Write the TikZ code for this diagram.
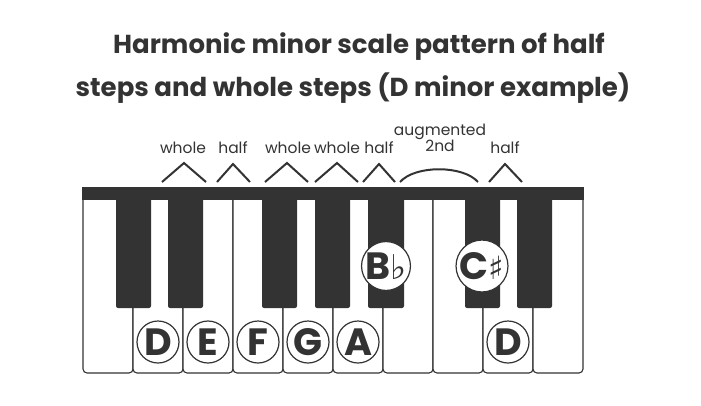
\documentclass[tikz,border=0pt]{standalone}
\usepackage{fontspec}
\setmainfont{Poppins}
\newfontfamily\symfont{DejaVu Sans}
\definecolor{keyink}{HTML}{333333}
\begin{document}
\begin{tikzpicture}[x=1pt,y=-1pt]
                \tikzset{every node/.style={text=keyink},
                         note/.style={circle,draw=keyink,fill=white,line width=1.2pt,minimum size=42pt,inner sep=0pt,font=\fontsize{38}{38}\selectfont\bfseries},
                         interval/.style={font=\fontsize{15.5}{15}\selectfont,align=center},
                         bump/.style={draw=keyink,line width=2pt}}
                \useasboundingbox (0,0) rectangle (701,405);
                % title
                \node[font=\fontsize{26}{30}\selectfont\bfseries] (title1) at (359,47) {Harmonic minor scale pattern of half};
                \node[font=\fontsize{26}{30}\selectfont\bfseries] (title2) at (353,88) {steps and whole steps (D minor example)};
                % white keys
                \draw[keyink,line width=1.1pt,rounded corners=4pt,fill=white] (83,195) -- (83,373) -- (133,373) -- (133,195);
                \draw[keyink,line width=1.1pt,rounded corners=4pt,fill=white] (133,195) -- (133,373) -- (183,373) -- (183,195);
                \draw[keyink,line width=1.1pt,rounded corners=4pt,fill=white] (183,195) -- (183,373) -- (233,373) -- (233,195);
                \draw[keyink,line width=1.1pt,rounded corners=4pt,fill=white] (233,195) -- (233,373) -- (283,373) -- (283,195);
                \draw[keyink,line width=1.1pt,rounded corners=4pt,fill=white] (283,195) -- (283,373) -- (333,373) -- (333,195);
                \draw[keyink,line width=1.1pt,rounded corners=4pt,fill=white] (333,195) -- (333,373) -- (383,373) -- (383,195);
                \draw[keyink,line width=1.1pt,rounded corners=4pt,fill=white] (383,195) -- (383,373) -- (433,373) -- (433,195);
                \draw[keyink,line width=1.1pt,rounded corners=4pt,fill=white] (433,195) -- (433,373) -- (483,373) -- (483,195);
                \draw[keyink,line width=1.1pt,rounded corners=4pt,fill=white] (483,195) -- (483,373) -- (533,373) -- (533,195);
                \draw[keyink,line width=1.1pt,rounded corners=4pt,fill=white] (533,195) -- (533,373) -- (583,373) -- (583,195);
                % black keys
                \fill[keyink,rounded corners=2pt] (116,195) rectangle (151,308);
                \fill[keyink,rounded corners=2pt] (168,195) rectangle (203,308);
                \fill[keyink,rounded corners=2pt] (262,195) rectangle (297,308);
                \fill[keyink,rounded corners=2pt] (315,195) rectangle (350,308);
                \fill[keyink,rounded corners=2pt] (368,195) rectangle (404,308);
                \fill[keyink,rounded corners=2pt] (465,195) rectangle (500,308);
                \fill[keyink,rounded corners=2pt] (517,195) rectangle (552,308);
                % top bar
                \fill[keyink] (82,187) rectangle (584,200);
                % notes
                \node[note] (d1) at (158,342) {D};
                \node[note] (e) at (208,342) {E};
                \node[note] (f) at (258,342) {F};
                \node[note] (g) at (308,342) {G};
                \node[note] (a) at (358,342) {A};
                \node[note] (bflat) at (386,266) {B{\symfont\fontsize{34}{34}\selectfont\mdseries ♭}};
                \node[note] (csharp) at (482,266) {C{\symfont\fontsize{32}{32}\selectfont\mdseries ♯}};
                \node[note] (d2) at (508,342) {D};
                % steps
                \draw[bump] (162,182) -- (184,163) -- (206,182);
                \draw[bump] (217,182) -- (233,164) -- (250,182);
                \draw[bump] (265,182) -- (287,163) -- (308,182);
                \draw[bump] (315,182) -- (337,163) -- (358,182);
                \draw[bump] (363,182) -- (379,164) -- (395,182);
                \draw[bump] (400,182) .. controls (415,165) and (463,165) .. (478,182);
                \draw[bump] (489,182) -- (505,164) -- (522,182);
                \node[interval] (s1) at (183,148) {whole};
                \node[interval] (s2) at (233,148) {half};
                \node[interval] (s3) at (288,148) {whole};
                \node[interval] (s4) at (337,148) {whole};
                \node[interval] (s5) at (379,148) {half};
                \node[interval] (s6) at (440,138) {augmented\\2nd};
                \node[interval] (s7) at (505,148) {half};
            \end{tikzpicture}
\end{document}
